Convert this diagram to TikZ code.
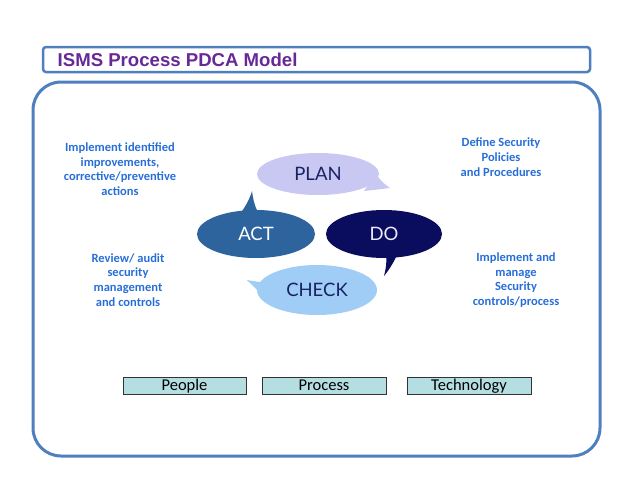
\documentclass[tikz,border=0pt]{standalone}
\usepackage{fontspec}
\setmainfont{Carlito}
\newfontfamily\titlefont{Liberation Sans}
\newfontfamily\gothic{Lato}
\usetikzlibrary{shapes.geometric}
\definecolor{frameblue}{RGB}{79,127,190}
\definecolor{titlepurple}{RGB}{104,40,150}
\definecolor{textblue}{RGB}{40,110,215}
\definecolor{plancol}{RGB}{200,200,242}
\definecolor{actcol}{RGB}{46,100,158}
\definecolor{docol}{RGB}{10,12,94}
\definecolor{checkcol}{RGB}{160,205,245}
\definecolor{boxfill}{RGB}{180,222,226}
\definecolor{navytext}{RGB}{25,35,100}
\tikzset{
  bubble/.style={ellipse, inner sep=0pt, font=\gothic\fontsize{18.5}{18.5}\selectfont},
  note/.style={align=center, text=textblue, font=\bfseries\fontsize{12.5}{14.7}\selectfont},
  pillar/.style={draw=black!80, fill=boxfill, line width=0.6pt, minimum width=123pt, minimum height=17pt, inner sep=0pt, text height=12pt, text depth=2pt, font=\fontsize{16.5}{16.5}\selectfont}
}
\begin{document}
\begin{tikzpicture}[x=1pt,y=-1pt]
\useasboundingbox (0,0) rectangle (638,493);
% title bar
\node[draw=frameblue, line width=2.5pt, rounded corners=3pt, minimum width=547pt, minimum height=25pt, inner sep=0pt] (titlebar) at (316.5,59.5) {};
\node[anchor=west, text=titlepurple, font=\titlefont\bfseries\fontsize{18.6}{18.6}\selectfont, inner sep=0pt] (title) at (57.5,60) {ISMS Process PDCA Model};
% main frame
\node[draw=frameblue, line width=3pt, rounded corners=28pt, minimum width=567pt, minimum height=374pt, inner sep=0pt] (frame) at (316.5,269) {};
% tails
\fill[plancol] (364,191) .. controls (374,190) and (382,189) .. (390,188) .. controls (384,184) and (380,180) .. (376,174) -- cycle;
\fill[actcol] (240,214) .. controls (246,206) and (250,198) .. (252,191) .. controls (253,198) and (254,205) .. (258,212) -- cycle;
\fill[docol] (386,255) .. controls (387,262) and (386,268) .. (384,276) .. controls (389,270) and (394,262) .. (398,253) -- cycle;
\fill[checkcol] (266,283) .. controls (259,282) and (253,281) .. (247,280) .. controls (253,286) and (259,292) .. (266,298) -- cycle;
% bubbles
\node[bubble, fill=plancol, minimum width=122pt, minimum height=42pt, text=navytext] (plan) at (318,174) {PLAN};
\node[bubble, fill=actcol, minimum width=118pt, minimum height=48pt, text=white] (act) at (256,234) {ACT};
\node[bubble, fill=docol, minimum width=116pt, minimum height=48pt, text=white!92!blue] (do) at (384,234) {DO};
\node[bubble, fill=checkcol, minimum width=120pt, minimum height=50pt, text=navytext] (check) at (317,290) {CHECK};
% notes
\node[note] (actnote) at (120,169) {Implement identified\\improvements,\\corrective/preventive\\actions};
\node[note] (checknote) at (128,280) {Review/ audit\\security\\management\\and controls};
\node[note] (plannote) at (501,157) {Define Security\\Policies\\and Procedures};
\node[note] (donote) at (516,280) {Implement and\\manage\\Security\\controls/process};
% pillars
\node[pillar] (people) at (184.5,385.5) {People};
\node[pillar, minimum width=124pt] (process) at (324,385.5) {Process};
\node[pillar, minimum width=124pt] (technology) at (469,385.5) {Technology};
\end{tikzpicture}
\end{document}
